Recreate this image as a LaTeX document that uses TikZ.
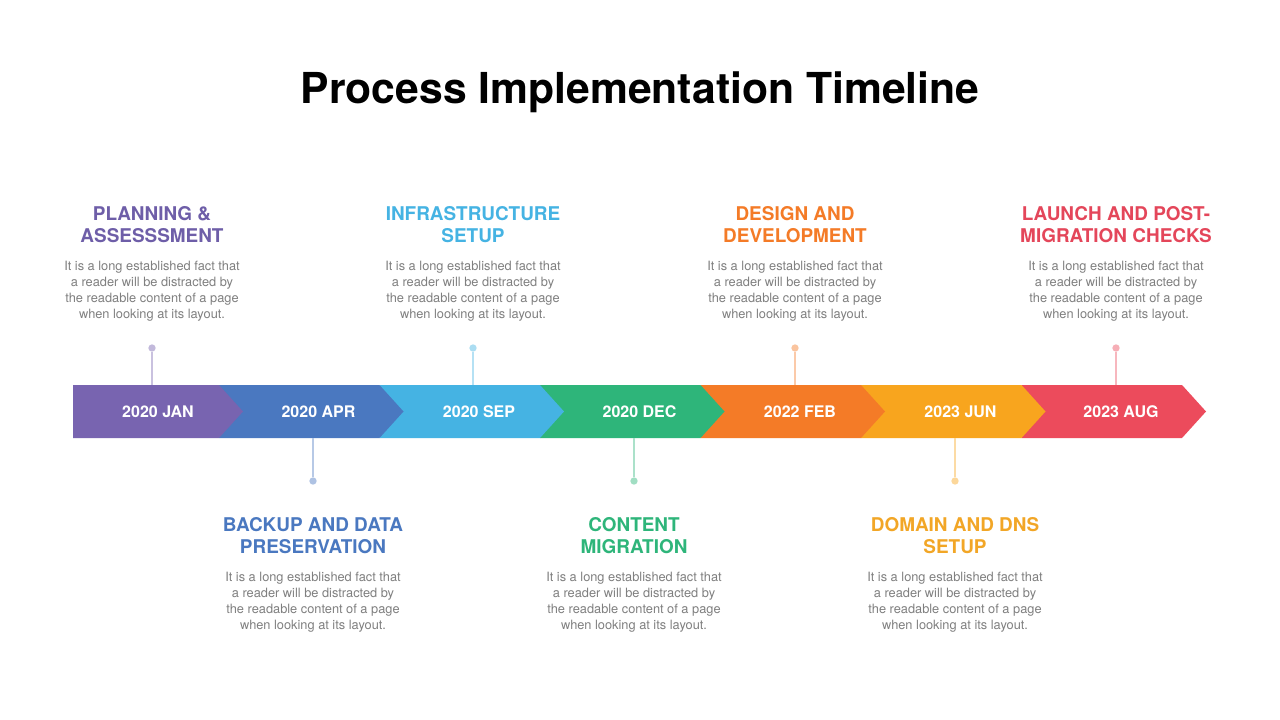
\documentclass[tikz,border=0pt]{standalone}
\usepackage{fontspec}
\setmainfont{TeX Gyre Heros}
\definecolor{cPur}{HTML}{7864B0}
\definecolor{cBlu}{HTML}{4A78C0}
\definecolor{cSky}{HTML}{45B3E3}
\definecolor{cGrn}{HTML}{2EB57A}
\definecolor{cOrg}{HTML}{F47B27}
\definecolor{cYel}{HTML}{F8A51E}
\definecolor{cRed}{HTML}{EC4B5C}
\definecolor{hPur}{HTML}{6E5EA8}
\definecolor{hYel}{HTML}{F2A626}
\definecolor{hRed}{HTML}{E4465A}
\definecolor{bodygray}{HTML}{7F7F7F}
\tikzset{
  datelab/.style={text=white,font=\fontsize{12pt}{14pt}\selectfont\bfseries,inner sep=0pt},
  headlab/.style={align=center,inner sep=0pt,font=\fontsize{14.2pt}{16.5pt}\selectfont\bfseries},
  bodylab/.style={align=center,inner sep=0pt,text=bodygray,font=\fontsize{9.6pt}{12pt}\selectfont},
  dotnode/.style={circle,minimum size=5.5pt,inner sep=0pt},
  stemline/.style={line width=0.9pt},
}
\begin{document}
\begin{tikzpicture}[x=0.75pt,y=-0.75pt]
\useasboundingbox[fill=white] (0,0) rectangle (1280,720);
% title
\node[anchor=base,inner sep=0pt,font=\fontsize{32pt}{36pt}\selectfont\bfseries] (title) at (640,104) {Process Implementation Timeline};
% band segments (right to left)
\foreach \i/\c in {7/cRed,6/cYel,5/cOrg,4/cGrn,3/cSky,2/cBlu,1/cPur} {
  \pgfmathsetmacro\xr{219+160.5*(\i-1)}
  \pgfmathsetmacro\xl{\i==1 ? 73 : 219+160.5*(\i-2)}
  \fill[\c] (\xl,385) -- (\xr,385) -- (\xr+24,411.5) -- (\xr,438) -- (\xl,438) -- cycle;
}
% date labels
\foreach \i/\lab in {1/2020 JAN,2/2020 APR,3/2020 SEP,4/2020 DEC,5/2022 FEB,6/2023 JUN,7/2023 AUG} {
  \node[datelab] (d\i) at ({158+160.5*(\i-1)},411.5) {\lab};
}
% top stems
\foreach \i/\x/\c in {1/152/cPur,3/473/cSky,5/795/cOrg,7/1116/cRed} {
  \node[dotnode,fill=\c!45] (p\i) at (\x,348) {};
  \coordinate (b\i) at (\x,385);
  \draw[stemline,\c!40] (p\i) -- (b\i);
}
% bottom stems
\foreach \i/\x/\c in {2/313/cBlu,4/634/cGrn,6/955/cYel} {
  \node[dotnode,fill=\c!45] (p\i) at (\x,481) {};
  \coordinate (b\i) at (\x,438);
  \draw[stemline,\c!40] (b\i) -- (p\i);
}
% top texts
\node[headlab,text=hPur] (h1) at (152,225) {PLANNING \&\\ASSESSSMENT};
\node[bodylab] (t1) at (152,291) {It is a long established fact that\\a reader will be distracted by\\the readable content of a page\\when looking at its layout.};
\node[headlab,text=cSky] (h3) at (473,225) {INFRASTRUCTURE\\SETUP};
\node[bodylab] (t3) at (473,291) {It is a long established fact that\\a reader will be distracted by\\the readable content of a page\\when looking at its layout.};
\node[headlab,text=cOrg] (h5) at (795,225) {DESIGN AND\\DEVELOPMENT};
\node[bodylab] (t5) at (795,291) {It is a long established fact that\\a reader will be distracted by\\the readable content of a page\\when looking at its layout.};
\node[headlab,text=hRed] (h7) at (1116,225) {LAUNCH AND POST-\\MIGRATION CHECKS};
\node[bodylab] (t7) at (1116,291) {It is a long established fact that\\a reader will be distracted by\\the readable content of a page\\when looking at its layout.};
% bottom texts
\node[headlab,text=cBlu] (h2) at (313,536) {BACKUP AND DATA\\PRESERVATION};
\node[bodylab] (t2) at (313,602) {It is a long established fact that\\a reader will be distracted by\\the readable content of a page\\when looking at its layout.};
\node[headlab,text=cGrn] (h4) at (634,536) {CONTENT\\MIGRATION};
\node[bodylab] (t4) at (634,602) {It is a long established fact that\\a reader will be distracted by\\the readable content of a page\\when looking at its layout.};
\node[headlab,text=hYel] (h6) at (955,536) {DOMAIN AND DNS\\SETUP};
\node[bodylab] (t6) at (955,602) {It is a long established fact that\\a reader will be distracted by\\the readable content of a page\\when looking at its layout.};
\end{tikzpicture}
\end{document}
